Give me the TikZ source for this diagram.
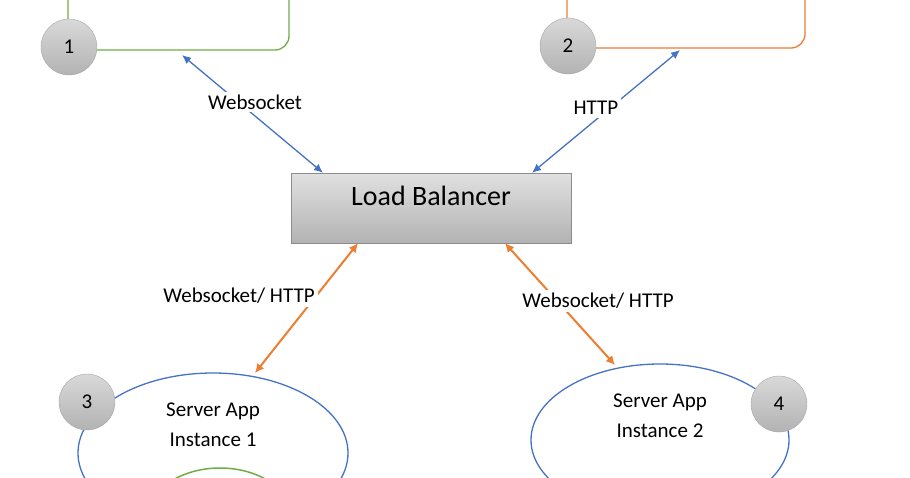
\documentclass[tikz,border=0pt]{standalone}
\usepackage{fontspec}
\setmainfont{Carlito}
\usetikzlibrary{shapes.geometric,arrows.meta}
\definecolor{grn}{RGB}{112,173,71}
\definecolor{org}{RGB}{237,125,49}
\definecolor{blu}{RGB}{68,114,196}
\tikzset{
  badge/.style={circle,minimum size=56pt,inner sep=0pt,draw=black!35,top color=black!15,bottom color=black!30,font=\fontsize{21}{24}\selectfont},
  lbl/.style={fill=white,text=black,inner sep=3pt,font=\fontsize{21}{24}\selectfont},
  blink/.style={blu,line width=1.3pt,{Latex[length=9pt,width=8pt]}-{Latex[length=9pt,width=8pt]}},
  olink/.style={org,line width=2pt,{Latex[length=9pt,width=9pt]}-{Latex[length=9pt,width=9pt]}},
}
\begin{document}
\begin{tikzpicture}[x=1pt,y=-1pt]
\useasboundingbox (0,0) rectangle (910,477);
\clip (0,0) rectangle (910,477);
% client boxes
\draw[grn,line width=1.3pt,rounded corners=14pt] (68,-20) -- (68,50) -- (289,50) -- (289,-20);
\draw[org,line width=1.3pt,rounded corners=14pt] (567,-20) -- (567,48) -- (805,48) -- (805,-20);
\node[badge] (c1) at (69,47) {1};
\node[badge] (c2) at (568,46) {2};
% load balancer
\node[draw=black!45,top color=black!12,bottom color=black!30,minimum width=280pt,minimum height=70pt,
  font=\fontsize{28}{32}\selectfont,text depth=24pt] (lb) at (431,208) {Load Balancer};
% server instances
\draw[blu,line width=1.3pt] (213,453) ellipse (135 and 80);
\draw[grn,line width=1.5pt] (220,522) ellipse (75 and 54);
\draw[blu,line width=1.3pt] (660,440) ellipse (129 and 76);
\node[align=center,font=\fontsize{21}{30}\selectfont] (s1) at (213,425) {Server App\\Instance 1};
\node[align=center,font=\fontsize{21}{30}\selectfont] (s2) at (660,416) {Server App\\Instance 2};
\node[badge] (c3) at (87,402) {3};
\node[badge] (c4) at (779,404) {4};
% connectors
\coordinate (b1) at (182,55);
\coordinate (b2) at (680,50);
\coordinate (i1) at (255,373);
\coordinate (i2) at (615,365);
\draw[blink] (b1) -- (lb.north west -| 323,170);
\draw[blink] (b2) -- (lb.north east -| 532,172);
\draw[olink] (lb.south west -| 358,245) -- (i1);
\draw[olink] (lb.south east -| 505,245) -- (i2);
\node[lbl] (l1) at (255,102) {Websocket};
\node[lbl] (l2) at (596,108) {HTTP};
\node[lbl] (l3) at (239,296) {Websocket/ HTTP};
\node[lbl] (l4) at (598,301) {Websocket/ HTTP};
\end{tikzpicture}
\end{document}
